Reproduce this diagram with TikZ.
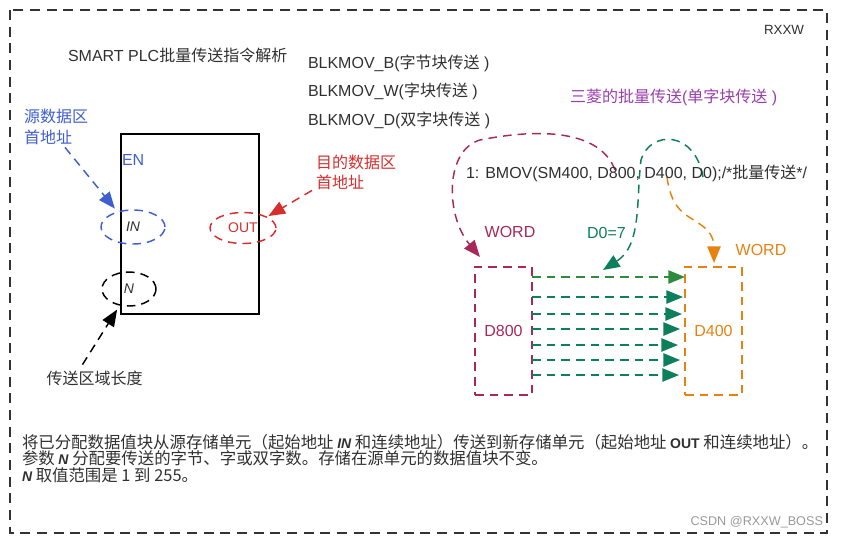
\documentclass[tikz,border=0pt]{standalone}
\usepackage{fontspec}
\setmainfont{Liberation Sans}
\newfontfamily\cjk{Noto Sans CJK SC}
\usetikzlibrary{shapes.geometric,arrows.meta,calc}
\definecolor{txt}{HTML}{303030}
\definecolor{frm}{HTML}{333333}
\definecolor{blu}{HTML}{3F5FD0}
\definecolor{rd}{HTML}{D62D2D}
\definecolor{mar}{HTML}{A8285A}
\definecolor{grn}{HTML}{0E7F5C}
\definecolor{rowa}{HTML}{2E8B3E}
\definecolor{org}{HTML}{E8820E}
\definecolor{purp}{HTML}{9A3DAE}
\begin{document}
\begin{tikzpicture}[x=0.75pt,y=-0.75pt,
  every node/.style={inner sep=0pt, outer sep=0pt, font=\fontsize{12}{15}\selectfont, text=txt},
  dsh/.style={line width=1.1pt, dash pattern=on 6.5pt off 4.5pt},
  arrhead/.style={-{Triangle[length=12.5pt,width=10pt]}},
  frame/.style={line width=1.5pt, draw=frm, dash pattern=on 7.5pt off 5pt},
  hand/.style={font=\itshape\fontsize{10.5}{12}\selectfont}
]
\useasboundingbox (0,0) rectangle (841,544);
\draw[frame] (10,10) rectangle (827,533);

% headings
\node[anchor=west] (title) at (68,55) {SMART PLC{\cjk 批量传送指令解析}};
\node[anchor=west] (bb) at (308,63) {BLKMOV\_B({\cjk 字节块传送} )};
\node[anchor=west] (bw) at (308,91) {BLKMOV\_W({\cjk 字块传送} )};
\node[anchor=west] (bd) at (308,120) {BLKMOV\_D({\cjk 双字块传送} )};
\node[anchor=west,text=purp] (mits) at (570,97) {{\cjk 三菱的批量传送}({\cjk 单字块传送} )};
\node (rx) at (784,30) {\fontsize{10}{12}\selectfont RXXW};

% block
\node[draw=black, line width=0.9pt, minimum width=103.5pt, minimum height=135pt] (blk) at (190,224) {};
\node[anchor=west,text=blu] (en) at (122,160) {EN};
\node[ellipse, draw=blu, dsh, minimum width=48pt, minimum height=25.5pt, hand] (inell) at (133,227) {IN};
\node[ellipse, draw=rd, dsh, minimum width=49.5pt, minimum height=23.25pt, text=rd, font=\fontsize{10.5}{12}\selectfont] (outell) at (243,228) {OUT};
\node[ellipse, draw=black, dsh, minimum width=40.5pt, minimum height=25.5pt, hand] (nell) at (129,289) {N};

\node[anchor=west, align=left, text=blu, font=\cjk\fontsize{12}{15.75}\selectfont] (src) at (24,126.5) {源数据区\\首地址};
\node[anchor=west, align=left, text=rd, font=\cjk\fontsize{12}{15}\selectfont] (dst) at (316,172) {目的数据区\\首地址};
\node[font=\cjk\fontsize{12}{15}\selectfont] (lenl) at (94.5,378) {传送区域长度};

\draw[dsh, arrhead, blu] ($(src.south west)+(41,3)$) -- ($(inell.140)+(-1,-4)$);
\draw[dsh, arrhead, rd] ($(dst.south west)+(-4,1)$) -- ($(outell.25)+(2,-1)$);
\draw[dsh, arrhead, black] ($(lenl.north)+(-12,-6)$) -- ($(nell.235)+(-1,5)$);

% right side
\node[draw=mar, dsh, minimum width=42.75pt, minimum height=96pt, text=mar] (d800) at (503.5,331) {D800};
\node[draw=org, dsh, minimum width=42.75pt, minimum height=96pt, text=org] (d400) at (713.5,331) {D400};
\node[text=mar] (w1) at (510,232) {WORD};
\node[text=org] (w2) at (761,250) {WORD};
\node[text=grn] (d0) at (606.5,233) {D0=7};

\coordinate (ms) at (615,170);
\coordinate (gs) at (703,177);
\coordinate (gt) at (603,270);
\coordinate (os) at (667,177);
\draw[dsh, arrhead, mar] (ms) .. controls (600,130) and (540,128) .. (480,140) .. controls (445,150) and (445,215) .. ($(d800.north west)+(5,-10)$);
\draw[dsh, arrhead, grn] (gs) .. controls (695,130) and (650,130) .. (641,160) .. controls (636,200) and (642,245) .. (gt);
\draw[dsh, arrhead, org] (os) .. controls (672,215) and (690,215) .. (705,228) .. controls (714,236) and (714,245) .. ($(d400.north)+(0.5,-4)$);

\node[anchor=west] (code) at (466,173) {1: BMOV(SM400, D800, D400, D0);/*{\cjk 批量传送}*/};

\draw[dsh, arrhead, rowa] ($(d800.north east)+(0,10)$) -- ($(d400.north west)+(0,10)$);
\foreach \dy/\dx in {30/2,47/3,62/5,78/7,93/5,108/6}{
  \draw[dsh, arrhead, grn] ($(d800.north east)+(0,\dy)$) -- ($(d400.north west)+(-\dx,\dy)$);
}

% description
\node[anchor=west, align=left, font=\cjk\fontsize{12.3}{12.4}\selectfont] (desc) at (22,458.5)
{将已分配数据值块从源存储单元（起始地址 {\rmfamily\bfseries\itshape\fontsize{10.5}{12}\selectfont IN} 和连续地址）传送到新存储单元（起始地址 {\rmfamily\bfseries\fontsize{10.5}{12}\selectfont OUT} 和连续地址）。\\
参数 {\rmfamily\bfseries\itshape\fontsize{10.5}{12}\selectfont N} 分配要传送的字节、字或双字数。存储在源单元的数据值块不变。\\
{\rmfamily\bfseries\itshape\fontsize{10.5}{12}\selectfont N} 取值范围是 1 到 255。};

\node[anchor=east, text=black!40, font=\fontsize{9.5}{11}\selectfont] (wm) at (823,522) {CSDN @RXXW\_BOSS};
\end{tikzpicture}
\end{document}
